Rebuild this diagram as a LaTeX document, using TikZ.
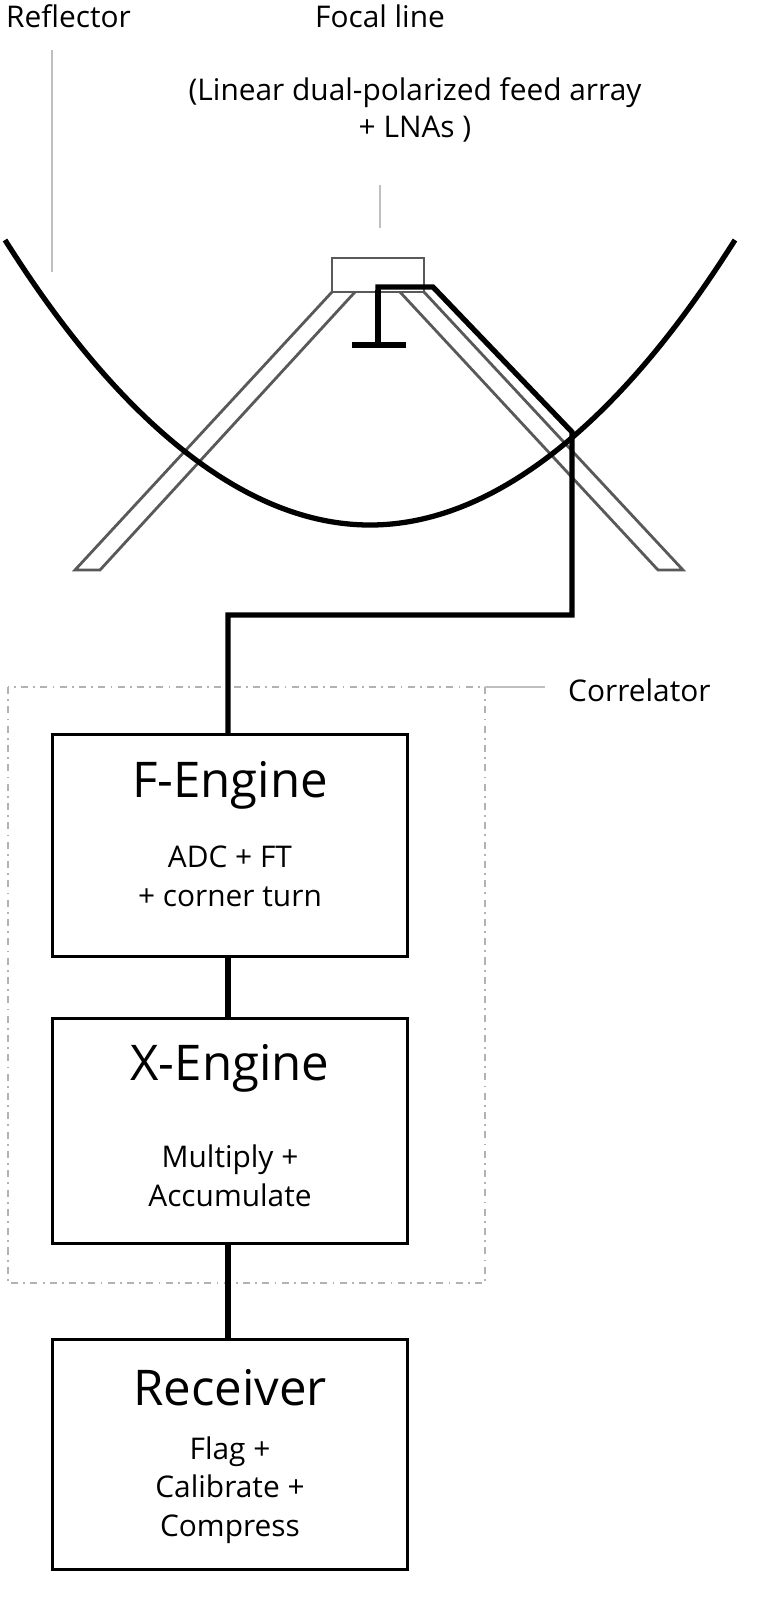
\documentclass[tikz,border=0pt]{standalone}
\usepackage{fontspec}
\setmainfont{Open Sans}
\usetikzlibrary{positioning}
\begin{document}
\begin{tikzpicture}[x=0.02cm,y=-0.02cm,
    cable/.style={draw, line width=3pt, line join=miter},
    strut/.style={draw, gray!70!black, line width=1.6pt},
    leader/.style={draw, gray!50, line width=1.6pt},
    block/.style={rectangle, draw, line width=1.6pt, minimum width=7.1cm,
        align=center, anchor=north, inner sep=0pt},
    label/.style={font=\fontsize{17}{21}\selectfont, align=center},
    title/.style={font=\fontsize{28}{32}\selectfont},
    sub/.style={font=\fontsize{17}{22}\selectfont, align=center}
]
\useasboundingbox (0,0) rectangle (757,1614);
% labels on top
\node (Reflector) [label, anchor=west] at (0,16) {Reflector};
\node (Focal) [label] at (380,16) {Focal line};
\node (Feed) [label] at (415,110) {(Linear dual-polarized feed array\\+ LNAs )};
\coordinate (RefTop) at (52,50);
\coordinate (RefBot) at (52,272);
\coordinate (FeedTop) at (380,185);
\coordinate (FeedBot) at (380,228);
\draw [leader] (RefTop) -- (RefBot);
\draw [leader] (FeedTop) -- (FeedBot);
% struts and feed box
\draw [strut] (355,292) -- (100,570) -- (75,570) -- (332,292);
\draw [strut] (400,292) -- (658,570) -- (683,570) -- (424,292);
\node (FeedBox) [draw, gray!70!black, line width=1.6pt, minimum width=1.84cm,
    minimum height=0.68cm, inner sep=0pt] at (378,275) {};
% reflector
\draw [line width=3pt] (5,240) parabola bend (370,525) (735,240);
% feed element
\draw [line width=3pt] (378,290) -- (378,345);
\draw [line width=3pt] (352,345) -- (406,345);
% correlator frame
\draw [gray!60, line width=1.6pt, dash pattern=on 4pt off 3pt on 1pt off 3pt]
    (8,687) rectangle (485,1283);
\draw [leader] (485,687) -- (545,687);
\node (Correlator) [label, anchor=west] at (562,690) {Correlator};
% engines
\node (FEngine) [block, minimum height=4.44cm] at (230,733) {};
\node [title] at (230,785) {F-Engine};
\node [sub] at (230,876) {ADC + FT\\+ corner turn};
\node (XEngine) [block, minimum height=4.5cm] at (230,1017) {};
\node [title] at (230,1068) {X-Engine};
\node [sub] at (230,1176) {Multiply +\\Accumulate};
\node (Receiver) [block, minimum height=4.6cm] at (230,1338) {};
\node [title] at (230,1388) {Receiver};
\node [sub] at (230,1490) {Flag +\\Calibrate +\\Compress};
% cables
\draw [cable] (378,290) -- (378,287) -- (433,287) -- (572,432) -- (572,615)
    -- (228,615) -- (FEngine.north -| 228,0);
\draw [cable] (FEngine.south -| 228,0) -- (XEngine.north -| 228,0);
\draw [cable] (XEngine.south -| 228,0) -- (Receiver.north -| 228,0);
\end{tikzpicture}
\end{document}
